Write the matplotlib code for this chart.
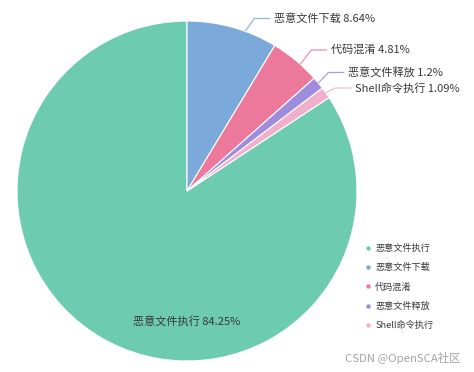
import numpy as np
import matplotlib
matplotlib.use("Agg")
import matplotlib.pyplot as plt
from matplotlib.lines import Line2D

plt.rcParams['font.family'] = ['Noto Sans CJK SC', 'DejaVu Sans']

# Attack technique shares (%)
categories = ['恶意文件执行', '恶意文件下载', '代码混淆', '恶意文件释放', 'Shell命令执行']
shares = [84.25, 8.64, 4.81, 1.2, 1.09]
colors = ['#6dcbb0', '#7aa9da', '#ec789c', '#a08cdc', '#f0b0cb']

W, H, DPI = 474, 372, 100
CX, CY, R = 187, 191, 170          # pie centre and radius in pixels

fig = plt.figure(figsize=(W / DPI, H / DPI), dpi=DPI)
ax = fig.add_axes([0, 0, 1, 1])

# Largest slice runs clockwise and ends at 12 o'clock, the rest follow it
start = 90 + 360 * shares[0] / sum(shares)
wedges, _ = ax.pie(shares, colors=colors, startangle=start, counterclock=False,
                   radius=1, center=(0, 0), frame=True,
                   wedgeprops=dict(edgecolor='white', linewidth=0.8))
ax.set_xlim(-CX / R, (W - CX) / R)
ax.set_ylim(-(H - CY) / R, CY / R)
ax.axis('off')

text_color = '#383838'

# Label inside the dominant slice
ax.text(0, -130 / R, f'{categories[0]} {shares[0]}%', ha='center', va='center',
        fontsize=8, color=text_color)

# Outside labels with elbow leader lines
px = 1 / R
shift_deg = [4.5, 2.0, 0.0, 0.0]     # slide of the line start along the arc
label_y_px = [18.5, 50, 72.5, 88]     # text rows, pixels from top
rise_dx_px = [9, 11, 10, 9.5]         # horizontal run of the first segment
run_px = 16                           # horizontal segment length
gap_px = 4
for i in range(1, len(shares)):
    w = wedges[i]
    mid = np.deg2rad((w.theta1 + w.theta2) / 2 - shift_deg[i - 1])
    x0, y0 = np.cos(mid), np.sin(mid)
    ty = (CY - label_y_px[i - 1]) * px
    x1 = x0 + rise_dx_px[i - 1] * px
    x2 = x1 + run_px * px
    ax.plot([x0, x1, x2], [y0, ty, ty], color=colors[i], lw=0.9,
            alpha=0.85, solid_capstyle='butt', clip_on=False)
    ax.text(x2 + gap_px * px, ty, f'{categories[i]} {shares[i]}%',
            ha='left', va='center', fontsize=8, color=text_color)

# Legend
handles = [Line2D([], [], ls='none', marker='o', markersize=3.2,
                  markerfacecolor=c, markeredgecolor='none') for c in colors]
leg = ax.legend(handles, categories, loc='upper left',
                bbox_to_anchor=(365 / W, 1 - 244 / H),
                bbox_transform=fig.transFigure, frameon=False,
                fontsize=6.6, handlelength=0.6, handletextpad=0.5,
                labelspacing=1.1, borderpad=0, borderaxespad=0)
for t in leg.get_texts():
    t.set_color(text_color)

# Watermark
fig.text(345 / W, 1 - 358 / H, 'CSDN @OpenSCA社区', ha='left', va='center',
         fontsize=8.2, color='#a3a3a3')

fig.savefig('out.png', dpi=DPI)
